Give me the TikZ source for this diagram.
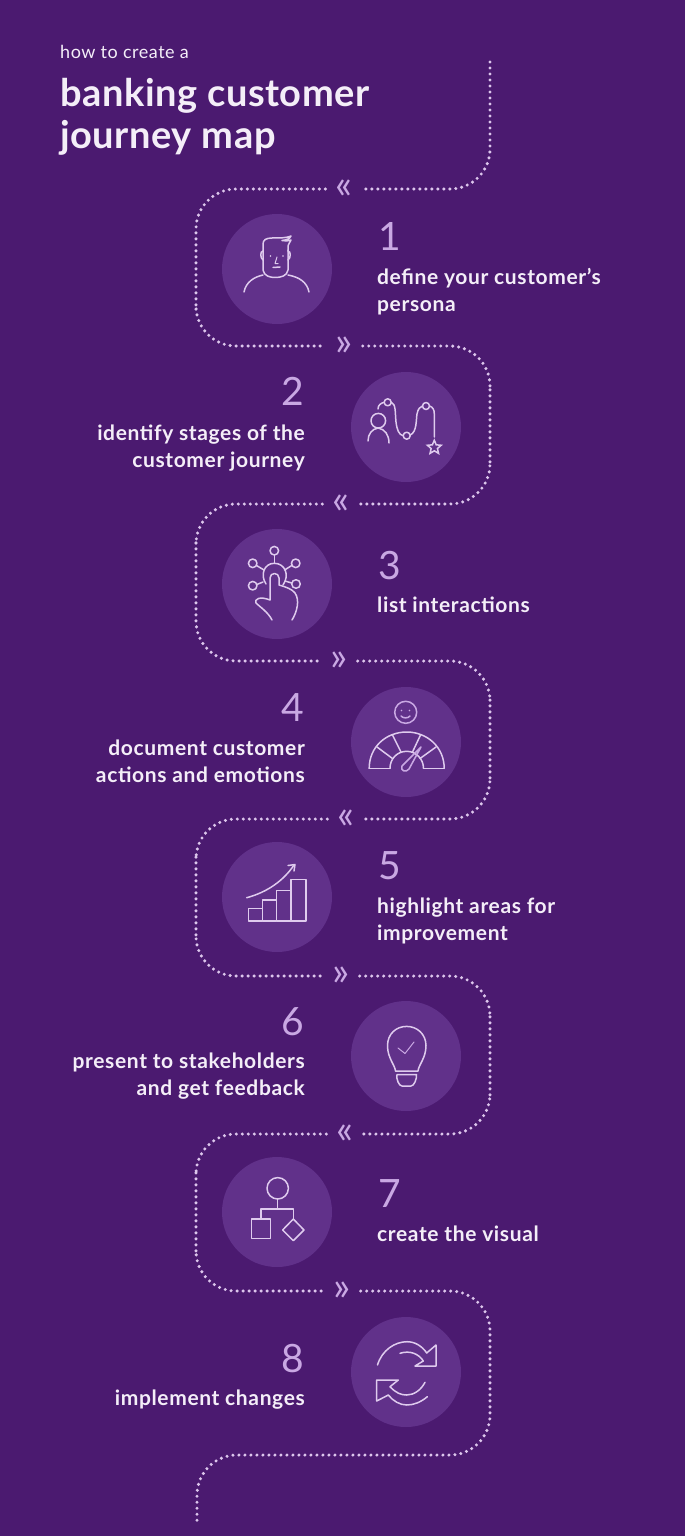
\documentclass[tikz,border=0pt]{standalone}
\usepackage{fontspec}
\setmainfont{Lato}
\newfontfamily\numfont{Lato}
\newfontfamily\bodyfont[LetterSpace=3]{Lato Bold}
\newfontfamily\smallfont[LetterSpace=3]{Lato}
\newfontfamily\titlefont[LetterSpace=1.5]{Lato Bold}
\usetikzlibrary{shapes.geometric}
\definecolor{bgpurple}{HTML}{4B1A70}
\definecolor{disc}{HTML}{61318A}
\definecolor{iconline}{HTML}{DFCBEE}
\definecolor{numcol}{HTML}{C9A8E3}
\definecolor{txtcol}{HTML}{F4EEF8}
\definecolor{dotcol}{HTML}{DCC6EC}
\tikzset{
  x=1pt,y=-1pt,
  trail/.style={draw=dotcol,line width=3.4pt,line cap=round,dash pattern=on 0pt off 6pt,rounded corners=40pt},
  chev/.style={text=numcol,font=\fontsize{40}{40}\selectfont,minimum width=37pt,minimum height=20pt,inner sep=0pt},
  disk/.style={circle,fill=disc,minimum size=110pt,inner sep=0pt},
  numr/.style={text=numcol,font=\numfont\fontsize{39}{39}\selectfont,anchor=base east,inner sep=0pt},
  numl/.style={text=numcol,font=\numfont\fontsize{39}{39}\selectfont,anchor=base west,inner sep=0pt},
  capl/.style={text=txtcol,font=\bodyfont\fontsize{21}{27}\selectfont,anchor=base west,align=left,inner sep=0pt},
  capr/.style={text=txtcol,font=\bodyfont\fontsize{21}{27}\selectfont,anchor=base east,align=right,inner sep=0pt},
  ico/.style={draw=iconline,line width=1.5pt,line join=round,line cap=round},
}
\begin{document}
\begin{tikzpicture}
\useasboundingbox (0,0) rectangle (685,1536);
\fill[bgpurple] (0,0) rectangle (685,1536);
% title
\node[text=txtcol,font=\smallfont\fontsize{18}{20}\selectfont,anchor=base west,inner sep=0pt] (t0) at (60,59) {how to create a};
\node[text=txtcol,font=\titlefont\fontsize{38}{43}\selectfont,anchor=base west,align=left,inner sep=0pt] (t1) at (60,149) {banking customer\\journey map};
% discs
\node[disk] (d1) at (277,269) {};
\node[disk] (d2) at (406,427) {};
\node[disk] (d3) at (277,584) {};
\node[disk] (d4) at (406,742) {};
\node[disk] (d5) at (277,897) {};
\node[disk] (d6) at (406,1056) {};
\node[disk] (d7) at (277,1212) {};
\node[disk] (d8) at (406,1372) {};
% chevrons
\node[chev] (c1) at (344,189) {«};
\node[chev] (c2) at (344,346) {»};
\node[chev] (c3) at (341,504) {«};
\node[chev] (c4) at (339,661) {»};
\node[chev] (c5) at (346,819) {«};
\node[chev] (c6) at (341,976) {»};
\node[chev] (c7) at (345,1134) {«};
\node[chev] (c8) at (342,1291) {»};
% trail anchors
\coordinate (s) at (490,62);
\coordinate (e) at (197,1522);
\coordinate (l1) at (196,270);
\coordinate (r1) at (490,425);
\coordinate (l2) at (196,580);
\coordinate (r2) at (490,740);
\coordinate (l3) at (196,897);
\coordinate (r3) at (490,1055);
\coordinate (l4) at (196,1212);
\coordinate (b) at (490,1455);
% trail
\draw[trail] (s) |- (c1.east);
\draw[trail] (c1.west) -| (l1) |- (c2.west);
\draw[trail] (c2.east) -| (r1) |- (c3.east);
\draw[trail] (c3.west) -| (l2) |- (c4.west);
\draw[trail] (c4.east) -| (r2) |- (c5.east);
\draw[trail] (c5.west) -| (l3) |- (c6.west);
\draw[trail] (c6.east) -| (r3) |- (c7.east);
\draw[trail] (c7.west) -| (l4) |- (c8.west);
\draw[trail] (c8.east) -| (b) -| (e);
% numbers and captions
\node[numl] (n1) at (378,250) {1};
\node[capl] (x1) at (377,311) {define your customer’s\\persona};
\node[numr] (n2) at (304,405) {2};
\node[capr] (x2) at (305,467) {identify stages of the\\customer journey};
\node[numl] (n3) at (378,579) {3};
\node[capl] (x3) at (377,612) {list interactions};
\node[numr] (n4) at (304,721) {4};
\node[capr] (x4) at (305,782) {document customer\\actions and emotions};
\node[numl] (n5) at (378,879) {5};
\node[capl] (x5) at (377,940) {highlight areas for\\improvement};
\node[numr] (n6) at (304,1035) {6};
\node[capr] (x6) at (305,1095) {present to stakeholders\\and get feedback};
\node[numl] (n7) at (378,1207) {7};
\node[capl] (x7) at (377,1241) {create the visual};
\node[numr] (n8) at (304,1372) {8};
\node[capr] (x8) at (305,1405) {implement changes};
% icon 1
\draw[ico] (244,292) .. controls (246,282) and (254,277) .. (263,275);
\draw[ico] (309,292) .. controls (307,282) and (299,277) .. (288,275);
\draw[ico] (263,252) -- (263,270) .. controls (264,276) and (270,277.5) .. (275,277.5) .. controls (281,277.5) and (287,276) .. (288,270) -- (288,250);
\draw[ico] (263,252) -- (263,244) .. controls (263,240) and (266,238) .. (272,238) .. controls (279,238) and (287,238) .. (291,236) .. controls (290,239) and (286,240) .. (282,240.5) .. controls (286,241) and (289,241) .. (291,240) .. controls (290,243) and (288,244) .. (288,246) -- (288,251);
\draw[ico] (263,251) .. controls (260,251) and (260,258) .. (263,260);
\draw[ico] (288,251) .. controls (291,251) and (291,258) .. (288,260);
\fill[iconline] (270.5,256) circle (.9pt) (283,256) circle (.9pt);
\draw[ico,line width=1pt] (277,257) -- (275,263.5) -- (278,263.5);
\draw[ico] (273,267.5) -- (280,267);
% icon 2
\draw[ico] (378.3,420.7) circle (7.3pt);
\draw[ico] (368,441) .. controls (368,434) and (372,429) .. (378,428) .. controls (385,429) and (389,435) .. (389,443);
\draw[ico] (378,409) .. controls (378,405) and (381,403) .. (384.2,402.3);
\draw[ico] (387.7,402.3) circle (3.5pt);
\draw[ico] (391.2,402.3) .. controls (396,404) and (395,412) .. (396,422) .. controls (397,430) and (399,435) .. (403.2,435.7);
\draw[ico] (406.7,435.7) circle (3.5pt);
\draw[ico] (410.2,435) .. controls (417,432) and (416,420) .. (417,414) .. controls (418,409) and (420,406.5) .. (422.5,406);
\draw[ico] (426,406) circle (3.5pt);
\draw[ico] (429.5,406) .. controls (433,407) and (434.3,410) .. (434.3,414) -- (434.3,437);
\node[star,star points=5,star point ratio=2.2,draw=iconline,line width=1.5pt,minimum size=14.5pt,inner sep=0pt] (st) at (434.3,447.5) {};
% icon 3
\draw[ico] (274.3,550.7) circle (4.3pt);
\draw[ico] (252.7,563.3) circle (4.3pt);
\draw[ico] (295.7,563.3) circle (4.3pt);
\draw[ico] (252.7,585.7) circle (4.3pt);
\draw[ico] (296,584) circle (4.3pt);
\draw[ico] (274.3,555) -- (274.3,563.3);
\draw[ico] (256.5,565.5) -- (264,570);
\draw[ico] (291.8,565.5) -- (284.5,570);
\draw[ico] (256.8,584.5) -- (263,582);
\draw[ico] (291.7,583) -- (285,581);
\draw[ico] (266,584) .. controls (260,575) and (264,563.3) .. (274.3,563.3) .. controls (285,563.3) and (290,575) .. (283,585);
\draw[ico] (272,620) .. controls (268,612) and (260,607) .. (256,603) .. controls (254,599) and (260,596) .. (270,600) -- (270,578) .. controls (270,572) and (279,572) .. (279,578) -- (279,585) .. controls (286,587) and (292,589) .. (295,593) .. controls (300,600) and (297,612) .. (292,620);
% icon 4
\draw[ico,draw=numcol] (405.7,712.3) circle (11pt);
\fill[numcol] (401.5,710.5) circle (.9pt) (409.5,710.5) circle (.9pt);
\draw[ico,draw=numcol] (401,716) .. controls (403,718.5) and (408,718.5) .. (410,716);
\draw[ico] (369.2,768.3) -- (390,768.3);
\draw[ico] (423.5,768.3) -- (444.2,768.3);
\draw[ico] (369.2,768.3) .. controls (369.2,747) and (386,732) .. (406.7,732) .. controls (427,732) and (444.2,747) .. (444.2,768.3);
\draw[ico] (390,768.3) .. controls (390,759) and (397,751.3) .. (406.7,751.3) .. controls (416,751.3) and (423.5,759) .. (423.5,768.3);
\draw[ico] (377,747) -- (392.5,758.5);
\draw[ico] (392.5,735) -- (401,752);
\draw[ico] (420.5,735) -- (412.5,752);
\draw[ico] (436,747) -- (420,758.5);
\draw[ico,draw=numcol] (421,747) -- (409,769) .. controls (406,773) and (400,771) .. (402,766) -- cycle;
% icon 5
\draw[ico,line width=1.3pt] (248.3,921) rectangle (262.3,908.3);
\draw[ico,line width=1.3pt] (262.3,921) rectangle (276.7,900);
\draw[ico,line width=1.3pt] (276.7,921) rectangle (291,890.7);
\draw[ico,line width=1.3pt] (291,921) rectangle (306,879.3);
\draw[ico] (246.7,897.7) .. controls (268,892) and (284,880) .. (294,865);
\draw[ico] (288,865.5) -- (295,864.5) -- (294,871);
% icon 6
\draw[ico] (395.5,1071) .. controls (395,1065) and (387.5,1058) .. (387.5,1045.7) .. controls (387.5,1034) and (396,1026.4) .. (406.7,1026.4) .. controls (417,1026.4) and (426,1034) .. (426,1045.7) .. controls (426,1058) and (418.5,1065) .. (418,1071) -- cycle;
\draw[ico] (397,1074.5) -- (416.5,1074.5) .. controls (417,1079) and (414,1086) .. (411,1086) -- (402,1086) .. controls (399,1086) and (396,1079) .. (397,1074.5) -- cycle;
\draw[ico,line width=1pt,draw=numcol] (398,1048) -- (405,1053.5) -- (414,1042);
% icon 7
\draw[ico] (277.7,1188.3) circle (10.7pt);
\draw[ico] (277.7,1199) -- (277.7,1209);
\draw[ico] (261,1219) -- (261,1209) -- (293.3,1209) -- (293.3,1219);
\draw[ico] (251.7,1219) rectangle (270.7,1238.3);
\draw[ico] (293.3,1219) -- (304,1230) -- (293.3,1240.7) -- (282.6,1230) -- cycle;
% icon 8
\draw[ico] (377.5,1365) .. controls (382,1350) and (395,1341.7) .. (407,1341.7) .. controls (415,1341.7) and (422,1346) .. (426.7,1353) -- (436,1345) -- (436,1366) -- (415,1366) -- (423.3,1361) .. controls (419,1354) and (410,1350) .. (400,1353.3);
\draw[ico] (427.3,1396.7) .. controls (421,1402) and (414,1405) .. (406.7,1405) .. controls (400,1405) and (393,1401) .. (388.3,1395) -- (376.7,1401) -- (376.7,1380) -- (398.3,1380) -- (390,1386.7) .. controls (396,1393) and (401,1395) .. (406.7,1395) .. controls (414,1395) and (421,1390) .. (425,1382.3);
\end{tikzpicture}
\end{document}
